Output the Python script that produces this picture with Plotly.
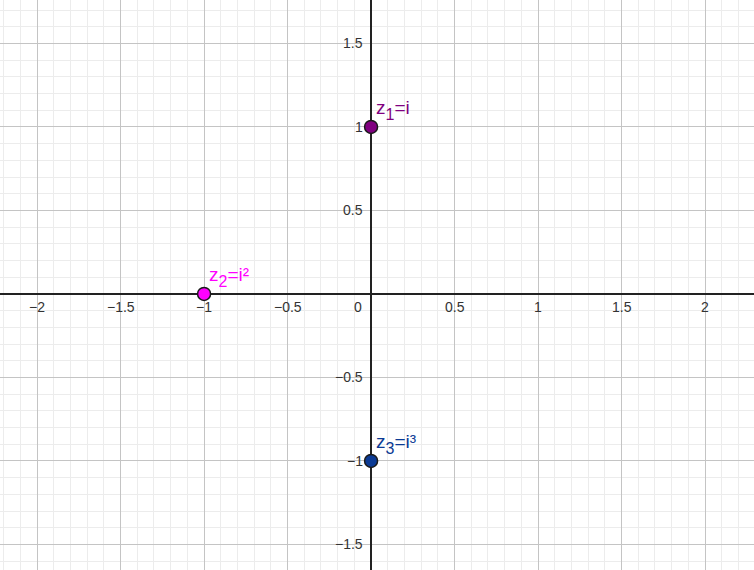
import plotly.graph_objects as go

# complex points i, i^2, i^3
re_part = [0, -1, 0]
im_part = [1, 0, -1]
sub_style = '<span style="font-size:16px;baseline-shift:-6px">{}</span>'
point_labels = [
    "z" + sub_style.format(1) + "=i",
    "z" + sub_style.format(2) + "=i²",
    "z" + sub_style.format(3) + "=i³",
]
point_colors = ["#800080", "#ff00ff", "#0b3a94"]

x_ticks = [-2, -1.5, -1, -0.5, 0, 0.5, 1, 1.5, 2]
y_ticks = [-1.5, -1, -0.5, 0.5, 1, 1.5]


def tick_text(v):
    s = f"{v:g}"
    return s.replace("-", "\u2212")


fig = go.Figure()

fig.add_trace(
    go.Scatter(
        x=re_part,
        y=im_part,
        mode="markers",
        marker=dict(size=13, color=point_colors, line=dict(color="#1a1a1a", width=1.5)),
        hoverinfo="skip",
        showlegend=False,
    )
)

annotations = []
for xv, yv, lab, col in zip(re_part, im_part, point_labels, point_colors):
    annotations.append(dict(
        x=xv, y=yv, text=lab, showarrow=False,
        xanchor="left", yanchor="bottom", xshift=3, yshift=2,
        font=dict(family="Liberation Sans, Arial, sans-serif", size=19, color=col),
    ))

tick_font = dict(family="Liberation Sans, Arial, sans-serif", size=14, color="#333333")
for v in x_ticks:
    annotations.append(dict(
        x=v, y=0, text=tick_text(v), showarrow=False,
        xanchor="center", yanchor="middle",
        xshift=-13 if v == 0 else 0, yshift=-13,
        font=tick_font,
    ))
for v in y_ticks:
    annotations.append(dict(
        x=0, y=v, text=tick_text(v), showarrow=False,
        xanchor="right", yanchor="middle", xshift=-6,
        font=tick_font,
    ))

axis_common = dict(
    showticklabels=False,
    ticks="",
    dtick=0.5,
    tick0=0,
    showgrid=True,
    gridcolor="#c4c4c4",
    gridwidth=1,
    minor=dict(dtick=0.1, tick0=0, showgrid=True, gridcolor="#ececec", gridwidth=1),
    zeroline=True,
    zerolinecolor="#222222",
    zerolinewidth=1.5,
    showline=False,
    fixedrange=True,
)

fig.update_layout(
    width=754,
    height=570,
    margin=dict(l=0, r=0, t=0, b=0),
    paper_bgcolor="white",
    plot_bgcolor="white",
    xaxis=dict(range=[-2.222, 2.293], **axis_common),
    yaxis=dict(range=[-1.653, 1.760], **axis_common),
    annotations=annotations,
    showlegend=False,
)

fig.write_html(
    "out.html",
    config={"displayModeBar": False},
    post_script="document.body.style.margin='0px';",
)
